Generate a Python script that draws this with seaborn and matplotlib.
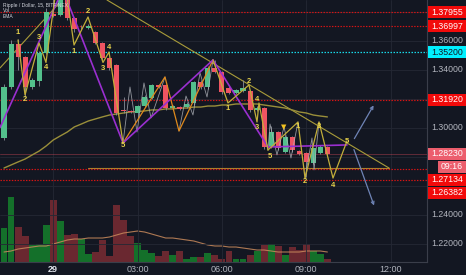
import numpy as np
import pandas as pd
import matplotlib
matplotlib.use("Agg")
import matplotlib.pyplot as plt
from matplotlib.patches import Rectangle
import seaborn as sns

# ---------------- data (15-minute candles, index 7 = 00:00 on the 29th) ----------------
opens = [1.2930, 1.3281, 1.3577, 1.3488, 1.3281, 1.3322, 1.3515, 1.3784, 1.3777, 1.3930,
         1.3756, 1.3688, 1.3688, 1.3660, 1.3584, 1.3481, 1.3433, 1.3123, 1.3117, 1.3102,
         1.3150, 1.3205, 1.3295, 1.3295, 1.3136, 1.3143, 1.3143, 1.3171, 1.3316, 1.3281,
         1.3412, 1.3384, 1.3274, 1.3240, 1.3253, 1.3253, 1.3123, 1.3136, 1.2868, 1.2971,
         1.2833, 1.2937, 1.2840, 1.2826, 1.2758, 1.2826, 1.2868]
closes = [1.3281, 1.3577, 1.3488, 1.3281, 1.3329, 1.3515, 1.3798, 1.3770, 1.3915, 1.3756,
          1.3681, 1.3688, 1.3701, 1.3584, 1.3481, 1.3412, 1.3102, 1.3115, 1.3110, 1.3150,
          1.3212, 1.3295, 1.3281, 1.3136, 1.3150, 1.3129, 1.3164, 1.3316, 1.3281, 1.3412,
          1.3384, 1.3247, 1.3240, 1.3260, 1.3274, 1.3123, 1.3136, 1.2868, 1.2971, 1.2861,
          1.2937, 1.2847, 1.2820, 1.2765, 1.2861, 1.2868, 1.2823]
highs = [1.3300, 1.3605, 1.3610, 1.3495, 1.3343, 1.3530, 1.3825, 1.3900, 1.3950, 1.3980,
         1.3765, 1.3705, 1.3715, 1.3668, 1.3590, 1.3490, 1.3440, 1.3212, 1.3125, 1.3160,
         1.3225, 1.3305, 1.3302, 1.3300, 1.3160, 1.3150, 1.3175, 1.3325, 1.3330, 1.3425,
         1.3467, 1.3390, 1.3285, 1.3268, 1.3329, 1.3260, 1.3150, 1.3142, 1.3012, 1.2980,
         1.2950, 1.2945, 1.2848, 1.2835, 1.2870, 1.2880, 1.2878]
lows = [1.2916, 1.3270, 1.3400, 1.3212, 1.3270, 1.3288, 1.3505, 1.3760, 1.3770, 1.3745,
        1.3660, 1.3675, 1.3680, 1.3575, 1.3470, 1.3400, 1.3088, 1.3105, 1.3100, 1.3068,
        1.3140, 1.3195, 1.3275, 1.3122, 1.3125, 1.3120, 1.3135, 1.3160, 1.3270, 1.3270,
        1.3375, 1.3235, 1.3230, 1.3232, 1.3245, 1.3110, 1.3115, 1.2855, 1.2860, 1.2850,
        1.2825, 1.2835, 1.2810, 1.2661, 1.2750, 1.2818, 1.2815]
volumes = [34, 65, 35, 26, 17, 18, 37, 62, 41, 27, 28, 23, 8, 10, 22, 6, 57, 42, 26, 19,
           12, 9, 6, 11, 7, 11, 3, 5, 5, 9, 7, 3, 11, 3, 3, 7, 11, 17, 18, 16,
           7, 15, 12, 18, 11, 8, 3]
volume_ma = [10, 11, 13, 14, 15, 16, 16, 18, 20, 22, 23, 23, 24, 24, 24, 25, 27, 29, 30, 31,
             30, 28, 26, 24, 24, 23, 22, 21, 19, 17, 16, 16, 15, 15, 14, 13, 12, 12, 11, 10,
             10, 10, 10, 11, 11, 11, 10]
ema = [1.2723, 1.2744, 1.2765, 1.2785, 1.2813, 1.2840, 1.2875, 1.2916, 1.2944, 1.2971,
       1.3006, 1.3026, 1.3047, 1.3061, 1.3075, 1.3088, 1.3095, 1.3102, 1.3109, 1.3112,
       1.3116, 1.3123, 1.3123, 1.3130, 1.3130, 1.3136, 1.3136, 1.3143, 1.3143, 1.3150,
       1.3150, 1.3157, 1.3157, 1.3164, 1.3164, 1.3164, 1.3164, 1.3157, 1.3150, 1.3143,
       1.3136, 1.3123, 1.3109, 1.3102, 1.3088, 1.3081, 1.3075]

tick_pos = [7, 19, 31, 43, 55]
tick_labels = ["29", "03:00", "06:00", "09:00", "12:00"]

red_levels = [1.37955, 1.36997, 1.31920, 1.27134, 1.26382]
cyan_level = 1.35200
last_price = 1.28230
countdown = "09:16"
grid_prices = [1.22, 1.24, 1.26, 1.28, 1.30, 1.32, 1.34, 1.36, 1.38]

# chart drawings: (candle index, price)
purple_wave = [(-0.57, 1.3002), (8.36, 1.3953), (16.93, 1.2896), (29.73, 1.3467),
               (37.55, 1.2868), (48.79, 1.2882)]
yellow_waves = [
    [(1.99, 1.3605), (2.99, 1.3226), (4.98, 1.3584), (5.97, 1.3450), (7.40, 1.3949)],
    [(8.82, 1.3949), (9.96, 1.3570), (11.95, 1.3763), (14.08, 1.3450), (14.94, 1.3522), (16.93, 1.2896)],
    [(29.73, 1.3467), (31.86, 1.3171), (34.85, 1.3295), (35.99, 1.3040), (36.27, 1.3171), (37.55, 1.2847)],
    [(37.55, 1.2847), (41.82, 1.3040), (42.82, 1.2654), (44.81, 1.3040), (46.80, 1.2654), (48.79, 1.2909)],
]
orange_wave = [(16.93, 1.2896), (22.90, 1.3350), (24.89, 1.2978), (29.73, 1.3467)]
gray_waves = [
    [(16.93, 1.2896), (17.92, 1.3281), (18.92, 1.2971), (19.91, 1.3309), (20.91, 1.3068), (22.90, 1.3350)],
    [(24.89, 1.2978), (25.89, 1.3219), (26.88, 1.3088), (27.88, 1.3378), (28.88, 1.3212), (29.73, 1.3467)],
    [(37.55, 1.2847), (37.84, 1.3026), (38.83, 1.2813), (39.83, 1.3006), (40.82, 1.2792), (41.82, 1.3040)],
    [(42.82, 1.2654), (43.81, 1.2930), (44.10, 1.2710), (44.81, 1.3040)],
]
wave_labels = [("1", 1.99, 1.3653), ("2", 2.99, 1.3192), ("3", 4.98, 1.3619), ("4", 5.97, 1.3412),
               ("1", 9.96, 1.3522), ("2", 11.95, 1.3798), ("3", 14.08, 1.3405), ("4", 14.94, 1.3550),
               ("5", 16.93, 1.2875), ("1", 31.86, 1.3136), ("2", 34.85, 1.3322), ("4", 35.99, 1.3192),
               ("3", 35.99, 1.2999), ("5", 37.84, 1.2799), ("1", 41.82, 1.3006), ("3", 44.81, 1.3006),
               ("2", 42.82, 1.2627), ("4", 46.80, 1.2600), ("5", 48.79, 1.2909)]
marker_point = (39.83, 1.3006)
rising_line = [(-0.57, 1.3412), (8.25, 1.3880)]
desc_line = [(14.65, 1.3880), (54.77, 1.2723)]
flat_line = [(12.0, 1.2723), (54.77, 1.2723)]
arrows = [((49.64, 1.2909), (52.77, 1.3171)), ((49.64, 1.2868), (52.77, 1.2447))]

# ---------------- style ----------------
sns.set_theme(style="dark")
plt.rcParams['font.family'] = ['Liberation Sans', 'DejaVu Sans']
BG = "#131722"
GRID = "#242834"
UP, DOWN, FLAT = "#53c08c", "#ef5462", "#9598a1"
VUP, VDOWN = "#14702a", "#6a2830"
YEL, YEL_TXT = "#c2ae3a", "#e8d44c"

W, H = 466, 275
fig = plt.figure(figsize=(W / 100, H / 100), dpi=100, facecolor=BG)
rect = [0, 13 / H, 427 / W, 262 / H]
axv = fig.add_axes(rect, zorder=0)
ax = fig.add_axes(rect, zorder=1)

n = len(opens)
idx = np.arange(n)
df = pd.DataFrame({"idx": idx, "open": opens, "close": closes, "high": highs, "low": lows,
                   "volume": volumes, "vol_ma": volume_ma, "ema": ema})
xlim = (-0.57, 60.17)
ylim = (1.2076, 1.3880)

# volume pane
axv.set_facecolor(BG)
vcol = [VUP if c >= o else VDOWN for o, c in zip(opens, closes)]
axv.bar(df["idx"], df["volume"], width=0.98, color=vcol, linewidth=0)
sns.lineplot(data=df, x="idx", y="vol_ma", ax=axv, color="#c98a5c", lw=0.8, alpha=0.85)
axv.set_xlim(*xlim)
axv.set_ylim(0, max(volumes) / 0.248)
axv.axis("off")

# price pane
ax.set_facecolor("none")
ax.set_xlim(*xlim)
ax.set_ylim(*ylim)
ax.set_yticks(grid_prices)
ax.set_xticks(tick_pos)
ax.grid(True, color=GRID, lw=0.6)
ax.tick_params(axis="y", left=False, right=False, labelleft=False, labelright=False)
ax.tick_params(axis="x", length=0, pad=2, labelsize=6.5, colors="#b2b5be")
ax.set_xticklabels(tick_labels)
for lab in ax.get_xticklabels():
    if lab.get_text() == "29":
        lab.set_color("#e0e3eb")
        lab.set_fontweight("bold")
for s in ["top", "left"]:
    ax.spines[s].set_visible(False)
for s in ["right", "bottom"]:
    ax.spines[s].set_color("#3a3e4a")
    ax.spines[s].set_linewidth(0.8)

# levels
for lv in red_levels:
    ax.axhline(lv, color="#d81414", lw=0.85, ls=(0, (1.2, 1.2)), zorder=2)
ax.axhline(cyan_level, color="#18d8e8", lw=0.9, ls=(0, (1.2, 1.2)), zorder=2)
ax.axhline(last_price, color="#f05060", lw=0.7, alpha=0.35, zorder=2)

# triangle lines
ax.plot(*zip(*desc_line), color="#a99c3a", lw=0.8, zorder=3)
ax.plot(*zip(*flat_line), color="#c89030", lw=0.8, alpha=0.85, zorder=3)
ax.plot(*zip(*rising_line), color="#a99c3a", lw=0.8, zorder=3)

# EMA
sns.lineplot(data=df, x="idx", y="ema", ax=ax, color="#9a8f3a", lw=1.0, zorder=3)

# candles
ccol = [UP if c > o else (DOWN if c < o else FLAT) for o, c in zip(opens, closes)]
ax.vlines(idx, lows, highs, colors="#8a8e99", lw=0.6, zorder=4)
bottoms = np.minimum(opens, closes)
heights = np.maximum(np.abs(np.array(closes) - np.array(opens)), 0.00025)
ax.bar(idx, heights, bottom=bottoms, width=0.72, color=ccol, linewidth=0, zorder=5)

# wave drawings
for g in gray_waves:
    ax.plot(*zip(*g), color="#b0b3ba", lw=0.6, alpha=0.8, zorder=6)
ax.plot(*zip(*orange_wave), color="#e08a1c", lw=0.9, zorder=6)
ax.plot(*zip(*purple_wave), color="#9a2fd0", lw=1.2, zorder=6)
for w in yellow_waves:
    ax.plot(*zip(*w), color=YEL, lw=0.9, zorder=7)
for t, x, y in wave_labels:
    ax.text(x, y, t, color=YEL_TXT, fontsize=5.5, fontweight="bold", ha="center", va="center", zorder=8)
ax.text(marker_point[0], marker_point[1], "▼", color="#f0c020", fontsize=5, ha="center", va="center",
        family="DejaVu Sans", zorder=8)
for st, en in arrows:
    ax.annotate("", xy=en, xytext=st,
                arrowprops=dict(arrowstyle="->", color="#6f84b6", lw=0.9, mutation_scale=5), zorder=8)
ax.set_xlabel("")
ax.set_ylabel("")

# header text
fig.text(3 / W, 1 - 5 / H, "Ripple / Dollar, 15, BITFINEX", color="#d1d4dc", fontsize=3.6, va="center")
fig.text(3 / W, 1 - 11 / H, "Vol", color="#d1d4dc", fontsize=3.6, va="center")
fig.text(3 / W, 1 - 16.5 / H, "EMA", color="#d1d4dc", fontsize=3.6, va="center")

# right price scale
def ypx(price):
    return H - ax.transData.transform((0, price))[1]

boxed = [(red_levels[0], "%.5f" % red_levels[0], "#f20a0a", "white", 428),
         (red_levels[1], "%.5f" % red_levels[1], "#f20a0a", "white", 428),
         (cyan_level, "%.5f" % cyan_level, "#00f0ff", "#131722", 428),
         (red_levels[2], "%.5f" % red_levels[2], "#f20a0a", "white", 428),
         (last_price, "%.5f" % last_price, "#ec5e6d", "white", 428),
         (None, countdown, "#ec5e6d", "white", 438),
         (red_levels[3], "%.5f" % red_levels[3], "#f20a0a", "white", 428),
         (red_levels[4], "%.5f" % red_levels[4], "#f20a0a", "white", 428)]
placed = []
prev = -100
for price, txt, fc, tc, x0 in boxed:
    y = prev + 13 if price is None else max(ypx(price), prev + 13)
    prev = y
    placed.append(y)
    fig.add_artist(Rectangle((x0 / W, 1 - (y + 6) / H), (W - x0) / W, 12 / H,
                             transform=fig.transFigure, fc=fc, ec="none", zorder=10))
    fig.text((x0 + 3) / W, 1 - y / H, txt, color=tc, fontsize=6.3, va="center", ha="left", zorder=11)

for gp in grid_prices:
    y = ypx(gp)
    if min(abs(y - p) for p in placed) < 10.5:
        continue
    fig.text(431 / W, 1 - y / H, "%.5f" % gp, color="#b2b5be", fontsize=6.3, va="center", ha="left")

fig.savefig("out.png", dpi=100, facecolor=BG)
